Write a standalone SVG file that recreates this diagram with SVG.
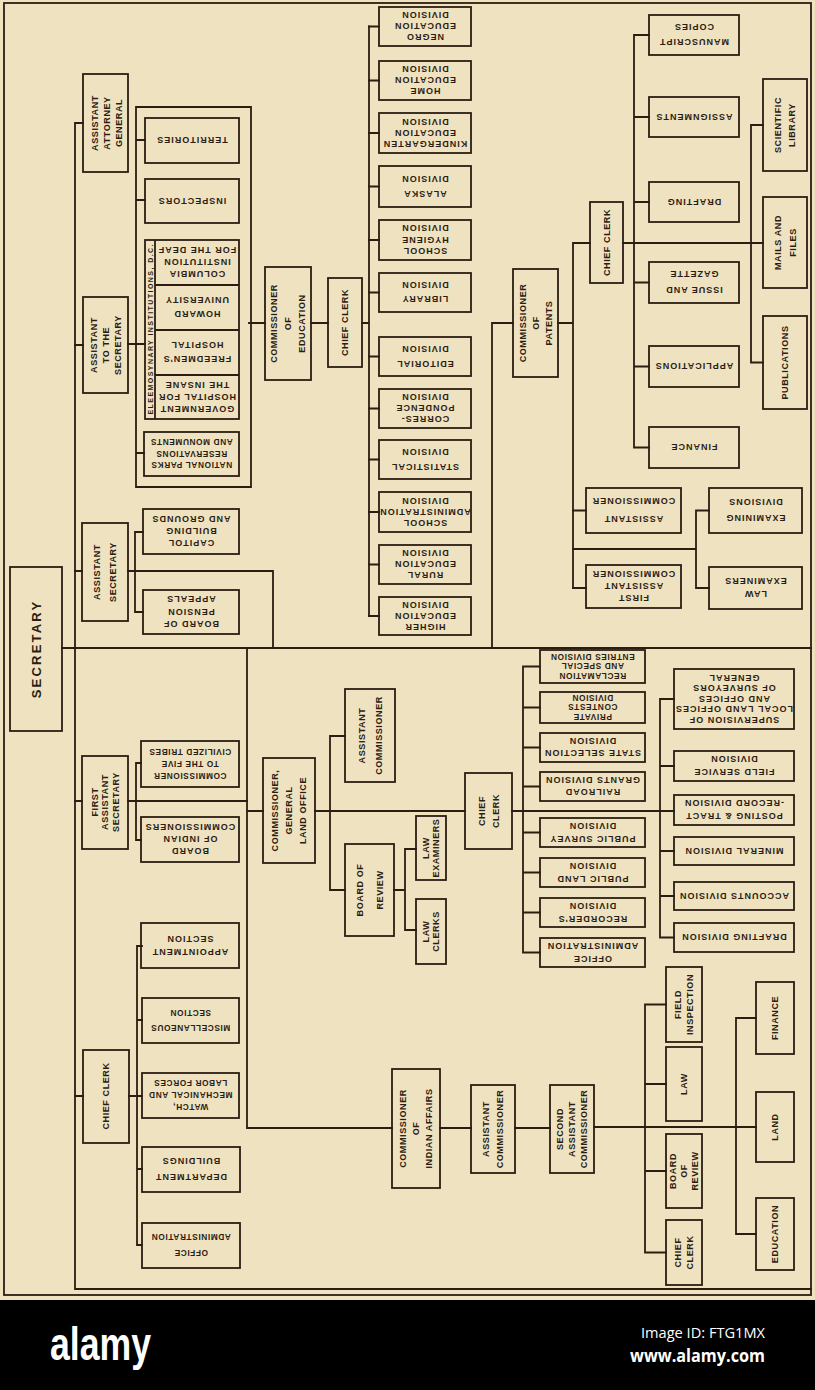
<svg xmlns="http://www.w3.org/2000/svg" width="815" height="1390" viewBox="0 0 815 1390">
<style>
.bg{fill:#efe2c1}
.bx{fill:none;stroke:#2b1d12;stroke-width:1.8}
#connectors path{fill:none;stroke:#2b1d12;stroke-width:1.8;stroke-linecap:square}
text{font-family:"Liberation Sans",Arial,sans-serif;font-weight:bold;font-size:9px;fill:#2b1d12;text-anchor:middle}
.u{letter-spacing:1px}
.r{letter-spacing:0.6px}
.sm{font-size:8.3px;letter-spacing:0.6px}
.ft{fill:#fff;font-family:"Open Sans","Liberation Sans",sans-serif;text-anchor:start}
</style>
<rect class="bg" x="0" y="0" width="815" height="1300"/>
<rect x="0" y="1300" width="815" height="90" fill="#000"/>
<rect class="bx" x="4" y="3" width="807" height="1292" stroke-width="2"/>

<g id="connectors">
<path d="M75,123 H83 M75,123 V1289 H811 M62,648 H811"/>
<path d="M75,345 H83 M128,344 H145"/>
<path d="M136,107 H251 V487 H136 Z M136,140 H145 M136,200 H145 M136,453 H144"/>
<path d="M75,571 H82 M128,571 H273 V648 M143,532 H135 V612 H143"/>
<path d="M75,801 H82 M128,801 H247 M141,763 H136 V840 H141"/>
<path d="M75,1096 H83 M129,1096 H142 M142,946 H137 V1245 H142 M137,1020 H142 M137,1169 H142"/>
<path d="M249,323 H265 M311,323 H328 M362,323 H369 M369,26.5 V616"/>
<path d="M369,26.5 H379 M369,80.5 H379 M369,133 H379 M369,186.5 H379 M369,240 H379 M369,292.5 H379 M369,356.5 H379 M369,408.5 H379 M369,459.5 H379 M369,512 H379 M369,564.5 H379 M369,616 H379"/>
<path d="M492,648 V323 H513 M558,323 H573 M573,243 V588 M573,243 H590 M623,243 H763"/>
<path d="M634,35 V447.5 M634,35 H649 M634,117 H649 M634,202 H649 M634,282.5 H649 M634,366.5 H649 M634,447.5 H649"/>
<path d="M751,125 V362.5 M751,125 H763 M751,362.5 H763"/>
<path d="M573,510.5 H586 M573,588 H586 M573,549 H696 M696,510.5 V588 M696,510.5 H709 M696,588 H709"/>
<path d="M247,648 V1128 H392 M247,811 H263"/>
<path d="M315,811 H465 M330,736 V890 M330,736 H345 M330,890 H345 M394,890 H405 M405,849 V930 M405,849 H416 M405,930 H416"/>
<path d="M512,811 H674 M523,666.5 V952.5 M523,666.5 H540 M523,707.5 H540 M523,747.5 H540 M523,786.5 H540 M523,832.5 H540 M523,872.5 H540 M523,912.5 H540 M523,952.5 H540"/>
<path d="M660,699 V937.5 M660,699 H674 M660,766 H674 M660,851 H674 M660,896 H674 M660,937.5 H674"/>
<path d="M440,1128 H471 M515,1128 H550 M594,1127 H756"/>
<path d="M645,1004.5 V1252.5 M645,1004.5 H666 M645,1084 H666 M645,1171 H666 M645,1252.5 H666"/>
<path d="M736,1018 V1234 M736,1018 H756 M736,1234 H756"/>
</g>

<g id="n_secretary"><rect class="bx" x="10" y="567" width="52" height="164"/>
<text transform="rotate(-90 36 649)" x="36" y="653.7" style="font-size:13px;letter-spacing:2.2px">SECRETARY</text></g>

<g id="n_aag"><rect class="bx" x="83" y="74" width="45" height="98"/>
<text class="r" transform="rotate(-90 107 123)"><tspan x="107" y="114.3">ASSISTANT</tspan><tspan x="107" y="126.3">ATTORNEY</tspan><tspan x="107" y="138.3">GENERAL</tspan></text></g>
<g id="n_ats"><rect class="bx" x="83" y="297" width="45" height="96"/>
<text class="r" transform="rotate(-90 106 345)"><tspan x="106" y="336.3">ASSISTANT</tspan><tspan x="106" y="348.3">TO THE</tspan><tspan x="106" y="360.3">SECRETARY</tspan></text></g>
<g id="n_as"><rect class="bx" x="82" y="523" width="46" height="98"/>
<text class="r" transform="rotate(-90 105 572)"><tspan x="105" y="567.3">ASSISTANT</tspan><tspan x="105" y="583.3">SECRETARY</tspan></text></g>
<g id="n_fas"><rect class="bx" x="82" y="756" width="46" height="93"/>
<text class="r" transform="rotate(-90 105 802)"><tspan x="105" y="794.8">FIRST</tspan><tspan x="105" y="805.3">ASSISTANT</tspan><tspan x="105" y="815.8">SECRETARY</tspan></text></g>
<g id="n_cc1"><rect class="bx" x="83" y="1050" width="46" height="93"/>
<text class="r" transform="rotate(-90 106 1096)" x="106" y="1099.3">CHIEF CLERK</text></g>

<g id="n_terr"><rect class="bx" x="145" y="118" width="94" height="45"/>
<text class="u" transform="rotate(180 192 140.5)" x="192" y="143.8">TERRITORIES</text></g>
<g id="n_insp"><rect class="bx" x="145" y="179" width="94" height="44"/>
<text class="u" transform="rotate(180 192 201)" x="192" y="204.3">INSPECTORS</text></g>
<g id="n_eleem"><rect class="bx" x="145" y="240" width="94" height="179"/>
<path class="bx" d="M155,240 V419 M155,285 H239 M155,330 H239 M155,375 H239"/>
<text transform="rotate(-90 150 329.5)" x="150" y="332" style="font-size:7px" textLength="170" lengthAdjust="spacing">ELEEMOSYNARY INSTITUTIONS, D.C.</text>
<text class="u" transform="rotate(180 197 262.5)"><tspan x="197" y="253.8">COLUMBIA</tspan><tspan x="197" y="265.8">INSTITUTION</tspan><tspan x="197" y="277.8">FOR THE DEAF</tspan></text>
<text class="u" transform="rotate(180 197 307.5)"><tspan x="197" y="303.8">HOWARD</tspan><tspan x="197" y="317.8">UNIVERSITY</tspan></text>
<text class="u" transform="rotate(180 197 352.5)"><tspan x="197" y="348.8">FREEDMEN'S</tspan><tspan x="197" y="362.8">HOSPITAL</tspan></text>
<text class="u" transform="rotate(180 197 397)"><tspan x="197" y="388.3">GOVERNMENT</tspan><tspan x="197" y="400.3">HOSPITAL FOR</tspan><tspan x="197" y="412.3">THE INSANE</tspan></text></g>
<g id="n_np"><rect class="bx" x="144" y="432" width="95" height="44"/>
<text class="sm" transform="rotate(180 191.5 454)"><tspan x="191.5" y="445.8">NATIONAL PARKS</tspan><tspan x="191.5" y="457.3">RESERVATIONS</tspan><tspan x="191.5" y="468.8">AND MONUMENTS</tspan></text></g>
<g id="n_cap"><rect class="bx" x="143" y="509" width="96" height="45"/>
<text class="u" transform="rotate(180 191 531.5)"><tspan x="191" y="522.8">CAPITOL</tspan><tspan x="191" y="534.8">BUILDING</tspan><tspan x="191" y="546.8">AND GROUNDS</tspan></text></g>
<g id="n_bpa"><rect class="bx" x="143" y="590" width="96" height="44"/>
<text class="u" transform="rotate(180 191 612)"><tspan x="191" y="602.8">BOARD OF</tspan><tspan x="191" y="615.3">PENSION</tspan><tspan x="191" y="627.8">APPEALS</tspan></text></g>
<g id="n_c5"><rect class="bx" x="141" y="741" width="98" height="46"/>
<text class="sm" transform="rotate(180 190 764)"><tspan x="190" y="755.3">COMMISSIONER</tspan><tspan x="190" y="767.3">TO THE FIVE</tspan><tspan x="190" y="779.3">CIVILIZED TRIBES</tspan></text></g>
<g id="n_bic"><rect class="bx" x="141" y="817" width="98" height="45"/>
<text class="u" transform="rotate(180 190 839.5)"><tspan x="190" y="830.8">BOARD</tspan><tspan x="190" y="842.8">OF INDIAN</tspan><tspan x="190" y="854.8">COMMISSIONERS</tspan></text></g>
<g id="n_app"><rect class="bx" x="141" y="923" width="98" height="45"/>
<text class="u" transform="rotate(180 190 945.5)"><tspan x="190" y="942.3">APPOINTMENT</tspan><tspan x="190" y="955.3">SECTION</tspan></text></g>
<g id="n_misc"><rect class="bx" x="142" y="998" width="97" height="45"/>
<text class="sm" transform="rotate(180 190.5 1020.5)"><tspan x="190.5" y="1016.3">MISCELLANEOUS</tspan><tspan x="190.5" y="1031.3">SECTION</tspan></text></g>
<g id="n_watch"><rect class="bx" x="142" y="1073" width="97" height="45"/>
<text class="sm" transform="rotate(180 190.5 1095.5)"><tspan x="190.5" y="1086.8">WATCH,</tspan><tspan x="190.5" y="1098.8">MECHANICAL AND</tspan><tspan x="190.5" y="1110.8">LABOR FORCES</tspan></text></g>
<g id="n_dept"><rect class="bx" x="142" y="1147" width="98" height="45"/>
<text class="u" transform="rotate(180 191 1169.5)"><tspan x="191" y="1164.8">DEPARTMENT</tspan><tspan x="191" y="1180.8">BUILDINGS</tspan></text></g>
<g id="n_oa1"><rect class="bx" x="142" y="1223" width="98" height="45"/>
<text class="sm" transform="rotate(180 191 1245.5)"><tspan x="191" y="1240.8">OFFICE</tspan><tspan x="191" y="1256.8">ADMINISTRATION</tspan></text></g>

<g id="n_ce"><rect class="bx" x="265" y="267" width="46" height="113"/>
<text class="r" transform="rotate(-90 288 323.5)"><tspan x="288" y="312.8">COMMISSIONER</tspan><tspan x="288" y="326.8">OF</tspan><tspan x="288" y="340.8">EDUCATION</tspan></text></g>
<g id="n_cce"><rect class="bx" x="328" y="278" width="34" height="89"/>
<text class="r" transform="rotate(-90 345 322.5)" x="345" y="325.8">CHIEF CLERK</text></g>

<g id="n_negro"><rect class="bx" x="379" y="7" width="92" height="39"/>
<text class="u" transform="rotate(180 425 26.5)"><tspan x="425" y="18.8">NEGRO</tspan><tspan x="425" y="29.8">EDUCATION</tspan><tspan x="425" y="40.8">DIVISION</tspan></text></g>
<g id="n_home"><rect class="bx" x="379" y="61" width="92" height="39"/>
<text class="u" transform="rotate(180 425 80.5)"><tspan x="425" y="72.8">HOME</tspan><tspan x="425" y="83.8">EDUCATION</tspan><tspan x="425" y="94.8">DIVISION</tspan></text></g>
<g id="n_kinder"><rect class="bx" x="379" y="113" width="92" height="40"/>
<text class="u" transform="rotate(180 425 133)"><tspan x="425" y="125.3">KINDERGARTEN</tspan><tspan x="425" y="136.3">EDUCATION</tspan><tspan x="425" y="147.3">DIVISION</tspan></text></g>
<g id="n_alaska"><rect class="bx" x="379" y="166" width="92" height="41"/>
<text class="u" transform="rotate(180 425 186.5)"><tspan x="425" y="182.3">ALASKA</tspan><tspan x="425" y="197.3">DIVISION</tspan></text></g>
<g id="n_hygiene"><rect class="bx" x="379" y="220" width="92" height="40"/>
<text class="u" transform="rotate(180 425 240)"><tspan x="425" y="231.8">SCHOOL</tspan><tspan x="425" y="243.3">HYGIENE</tspan><tspan x="425" y="254.8">DIVISION</tspan></text></g>
<g id="n_library"><rect class="bx" x="379" y="273" width="92" height="39"/>
<text class="u" transform="rotate(180 425 292.5)"><tspan x="425" y="288.8">LIBRARY</tspan><tspan x="425" y="302.8">DIVISION</tspan></text></g>
<g id="n_editorial"><rect class="bx" x="379" y="337" width="92" height="39"/>
<text class="u" transform="rotate(180 425 356.5)"><tspan x="425" y="352.3">EDITORIAL</tspan><tspan x="425" y="367.3">DIVISION</tspan></text></g>
<g id="n_corres"><rect class="bx" x="379" y="389" width="92" height="39"/>
<text class="u" transform="rotate(180 425 408.5)"><tspan x="425" y="400.8">CORRES-</tspan><tspan x="425" y="411.8">PONDENCE</tspan><tspan x="425" y="422.8">DIVISION</tspan></text></g>
<g id="n_statistical"><rect class="bx" x="379" y="440" width="92" height="39"/>
<text class="u" transform="rotate(180 425 459.5)"><tspan x="425" y="455.3">STATISTICAL</tspan><tspan x="425" y="470.3">DIVISION</tspan></text></g>
<g id="n_schooladmin"><rect class="bx" x="379" y="492" width="92" height="40"/>
<text class="u" transform="rotate(180 425 512)"><tspan x="425" y="504.3">SCHOOL</tspan><tspan x="425" y="515.3">ADMINISTRATION</tspan><tspan x="425" y="526.3">DIVISION</tspan></text></g>
<g id="n_rural"><rect class="bx" x="379" y="545" width="92" height="39"/>
<text class="u" transform="rotate(180 425 564.5)"><tspan x="425" y="556.8">RURAL</tspan><tspan x="425" y="567.8">EDUCATION</tspan><tspan x="425" y="578.8">DIVISION</tspan></text></g>
<g id="n_higher"><rect class="bx" x="379" y="597" width="92" height="38"/>
<text class="u" transform="rotate(180 425 616)"><tspan x="425" y="608.3">HIGHER</tspan><tspan x="425" y="619.3">EDUCATION</tspan><tspan x="425" y="630.3">DIVISION</tspan></text></g>

<g id="n_cp"><rect class="bx" x="513" y="269" width="45" height="108"/>
<text class="r" transform="rotate(-90 535.5 323)"><tspan x="535.5" y="313.3">COMMISSIONER</tspan><tspan x="535.5" y="326.3">OF</tspan><tspan x="535.5" y="339.3">PATENTS</tspan></text></g>
<g id="n_ccp"><rect class="bx" x="590" y="202" width="33" height="81"/>
<text class="r" transform="rotate(-90 606.5 242.5)" x="606.5" y="245.8">CHIEF CLERK</text></g>
<g id="n_manuscript"><rect class="bx" x="649" y="15" width="90" height="40"/>
<text class="u" transform="rotate(180 694 35)"><tspan x="694" y="30.8">MANUSCRIPT</tspan><tspan x="694" y="45.8">COPIES</tspan></text></g>
<g id="n_assignments"><rect class="bx" x="649" y="97" width="90" height="40"/>
<text class="u" transform="rotate(180 694 117)" x="694" y="120.3">ASSIGNMENTS</text></g>
<g id="n_drafting"><rect class="bx" x="649" y="182" width="90" height="40"/>
<text class="u" transform="rotate(180 694 202)" x="694" y="205.3">DRAFTING</text></g>
<g id="n_issue"><rect class="bx" x="649" y="262" width="90" height="41"/>
<text class="u" transform="rotate(180 694 282.5)"><tspan x="694" y="277.8">ISSUE AND</tspan><tspan x="694" y="293.8">GAZETTE</tspan></text></g>
<g id="n_applications"><rect class="bx" x="649" y="346" width="90" height="41"/>
<text class="u" transform="rotate(180 694 366.5)" x="694" y="369.8">APPLICATIONS</text></g>
<g id="n_finance_p"><rect class="bx" x="649" y="427" width="90" height="41"/>
<text class="u" transform="rotate(180 694 447.5)" x="694" y="450.8">FINANCE</text></g>
<g id="n_scilib"><rect class="bx" x="763" y="79" width="44" height="92"/>
<text class="r" transform="rotate(-90 785 125)"><tspan x="785" y="121.3">SCIENTIFIC</tspan><tspan x="785" y="135.3">LIBRARY</tspan></text></g>
<g id="n_mails"><rect class="bx" x="763" y="197" width="44" height="91"/>
<text class="r" transform="rotate(-90 785 242.5)"><tspan x="785" y="238.3">MAILS AND</tspan><tspan x="785" y="253.3">FILES</tspan></text></g>
<g id="n_publications"><rect class="bx" x="763" y="316" width="44" height="93"/>
<text class="r" transform="rotate(-90 785 362.5)" x="785" y="365.8">PUBLICATIONS</text></g>
<g id="n_acp"><rect class="bx" x="586" y="488" width="95" height="45"/>
<text class="u" transform="rotate(180 633.5 510.5)"><tspan x="633.5" y="504.8">ASSISTANT</tspan><tspan x="633.5" y="522.8">COMMISSIONER</tspan></text></g>
<g id="n_facp"><rect class="bx" x="586" y="565" width="95" height="43"/>
<text class="u" transform="rotate(180 633.5 586.5)"><tspan x="633.5" y="577.8">FIRST</tspan><tspan x="633.5" y="589.8">ASSISTANT</tspan><tspan x="633.5" y="601.8">COMMISSIONER</tspan></text></g>
<g id="n_exd"><rect class="bx" x="709" y="488" width="93" height="45"/>
<text class="u" transform="rotate(180 755.5 510.5)"><tspan x="755.5" y="505.8">EXAMINING</tspan><tspan x="755.5" y="521.8">DIVISIONS</tspan></text></g>
<g id="n_lexp"><rect class="bx" x="709" y="567" width="93" height="42"/>
<text class="u" transform="rotate(180 755.5 588)"><tspan x="755.5" y="584.8">LAW</tspan><tspan x="755.5" y="597.8">EXAMINERS</tspan></text></g>

<g id="n_glo"><rect class="bx" x="263" y="758" width="52" height="105"/>
<text class="r" transform="rotate(-90 289 810.5)"><tspan x="289" y="799.8">COMMISSIONER,</tspan><tspan x="289" y="813.8">GENERAL</tspan><tspan x="289" y="827.8">LAND OFFICE</tspan></text></g>
<g id="n_acg"><rect class="bx" x="345" y="689" width="50" height="93"/>
<text class="r" transform="rotate(-90 370 735.5)"><tspan x="370" y="730.3">ASSISTANT</tspan><tspan x="370" y="747.3">COMMISSIONER</tspan></text></g>
<g id="n_br"><rect class="bx" x="345" y="844" width="49" height="92"/>
<text class="r" transform="rotate(-90 369.5 890)"><tspan x="369.5" y="883.3">BOARD OF</tspan><tspan x="369.5" y="903.3">REVIEW</tspan></text></g>
<g id="n_lex"><rect class="bx" x="416" y="816" width="30" height="64"/>
<text class="r" transform="rotate(-90 431 848)"><tspan x="431" y="846.3">LAW</tspan><tspan x="431" y="856.3">EXAMINERS</tspan></text></g>
<g id="n_lcl"><rect class="bx" x="416" y="899" width="30" height="65"/>
<text class="r" transform="rotate(-90 431 931.5)"><tspan x="431" y="929.8">LAW</tspan><tspan x="431" y="939.8">CLERKS</tspan></text></g>
<g id="n_ccg"><rect class="bx" x="465" y="773" width="47" height="76"/>
<text class="r" transform="rotate(-90 488.5 811)"><tspan x="488.5" y="807.3">CHIEF</tspan><tspan x="488.5" y="821.3">CLERK</tspan></text></g>

<g id="n_reclamation"><rect class="bx" x="540" y="650" width="105" height="33"/>
<text class="sm" transform="rotate(180 592.5 666.5)"><tspan x="592.5" y="660.3">RECLAMATION</tspan><tspan x="592.5" y="669.8">AND SPECIAL</tspan><tspan x="592.5" y="679.3">ENTRIES DIVISION</tspan></text></g>
<g id="n_private"><rect class="bx" x="540" y="692" width="105" height="31"/>
<text class="sm" transform="rotate(180 592.5 707.5)"><tspan x="592.5" y="701.3">PRIVATE</tspan><tspan x="592.5" y="710.8">CONTESTS</tspan><tspan x="592.5" y="720.3">DIVISION</tspan></text></g>
<g id="n_state"><rect class="bx" x="540" y="733" width="105" height="29"/>
<text class="u" transform="rotate(180 592.5 747.5)"><tspan x="592.5" y="744.8">STATE SELECTION</tspan><tspan x="592.5" y="756.8">DIVISION</tspan></text></g>
<g id="n_railroad"><rect class="bx" x="540" y="772" width="105" height="29"/>
<text class="u" transform="rotate(180 592.5 786.5)"><tspan x="592.5" y="783.8">RAILROAD</tspan><tspan x="592.5" y="795.8">GRANTS DIVISION</tspan></text></g>
<g id="n_psurvey"><rect class="bx" x="540" y="818" width="105" height="29"/>
<text class="u" transform="rotate(180 592.5 832.5)"><tspan x="592.5" y="829.3">PUBLIC SURVEY</tspan><tspan x="592.5" y="842.3">DIVISION</tspan></text></g>
<g id="n_pland"><rect class="bx" x="540" y="858" width="105" height="29"/>
<text class="u" transform="rotate(180 592.5 872.5)"><tspan x="592.5" y="869.3">PUBLIC LAND</tspan><tspan x="592.5" y="882.3">DIVISION</tspan></text></g>
<g id="n_recorder"><rect class="bx" x="540" y="898" width="105" height="29"/>
<text class="u" transform="rotate(180 592.5 912.5)"><tspan x="592.5" y="909.3">RECORDER'S</tspan><tspan x="592.5" y="922.3">DIVISION</tspan></text></g>
<g id="n_oa2"><rect class="bx" x="540" y="938" width="105" height="29"/>
<text class="u" transform="rotate(180 592.5 952.5)"><tspan x="592.5" y="949.3">OFFICE</tspan><tspan x="592.5" y="962.3">ADMINISTRATION</tspan></text></g>

<g id="n_supervision"><rect class="bx" x="674" y="669" width="120" height="60"/>
<text class="u" transform="rotate(180 734 699)"><tspan x="734" y="681.3">SUPERVISION OF</tspan><tspan x="734" y="691.8">LOCAL LAND OFFICES</tspan><tspan x="734" y="702.3">AND OFFICES</tspan><tspan x="734" y="712.8">OF SURVEYORS</tspan><tspan x="734" y="723.3">GENERAL</tspan></text></g>
<g id="n_field"><rect class="bx" x="674" y="751" width="120" height="30"/>
<text class="u" transform="rotate(180 734 766)"><tspan x="734" y="762.8">FIELD SERVICE</tspan><tspan x="734" y="775.8">DIVISION</tspan></text></g>
<g id="n_posting"><rect class="bx" x="674" y="795" width="120" height="30"/>
<text class="u" transform="rotate(180 734 810)"><tspan x="734" y="806.8">POSTING &amp; TRACT</tspan><tspan x="734" y="819.8">-RECORD DIVISION</tspan></text></g>
<g id="n_mineral"><rect class="bx" x="674" y="837" width="120" height="28"/>
<text class="u" transform="rotate(180 734 851)" x="734" y="854.3">MINERAL DIVISION</text></g>
<g id="n_accounts"><rect class="bx" x="674" y="882" width="120" height="28"/>
<text class="u" transform="rotate(180 734 896)" x="734" y="899.3">ACCOUNTS DIVISION</text></g>
<g id="n_draftdiv"><rect class="bx" x="674" y="923" width="120" height="29"/>
<text class="u" transform="rotate(180 734 937.5)" x="734" y="940.8">DRAFTING DIVISION</text></g>

<g id="n_cia"><rect class="bx" x="392" y="1069" width="48" height="119"/>
<text class="r" transform="rotate(-90 416 1128.5)"><tspan x="416" y="1118.8">COMMISSIONER</tspan><tspan x="416" y="1131.8">OF</tspan><tspan x="416" y="1144.8">INDIAN AFFAIRS</tspan></text></g>
<g id="n_aci"><rect class="bx" x="471" y="1085" width="44" height="88"/>
<text class="r" transform="rotate(-90 493 1129)"><tspan x="493" y="1125.3">ASSISTANT</tspan><tspan x="493" y="1139.3">COMMISSIONER</tspan></text></g>
<g id="n_saci"><rect class="bx" x="550" y="1085" width="44" height="88"/>
<text class="r" transform="rotate(-90 572 1129)"><tspan x="572" y="1120.3">SECOND</tspan><tspan x="572" y="1132.3">ASSISTANT</tspan><tspan x="572" y="1144.3">COMMISSIONER</tspan></text></g>
<g id="n_finsp"><rect class="bx" x="666" y="967" width="36" height="75"/>
<text class="r" transform="rotate(-90 684 1004.5)"><tspan x="684" y="1001.8">FIELD</tspan><tspan x="684" y="1013.8">INSPECTION</tspan></text></g>
<g id="n_law"><rect class="bx" x="666" y="1047" width="36" height="74"/>
<text class="r" transform="rotate(-90 684 1084)" x="684" y="1087.3">LAW</text></g>
<g id="n_bri"><rect class="bx" x="666" y="1134" width="36" height="74"/>
<text class="r" transform="rotate(-90 684 1171)"><tspan x="684" y="1163.3">BOARD</tspan><tspan x="684" y="1174.3">OF</tspan><tspan x="684" y="1185.3">REVIEW</tspan></text></g>
<g id="n_cci"><rect class="bx" x="666" y="1220" width="36" height="65"/>
<text class="r" transform="rotate(-90 684 1252.5)"><tspan x="684" y="1249.8">CHIEF</tspan><tspan x="684" y="1261.8">CLERK</tspan></text></g>
<g id="n_finance_i"><rect class="bx" x="756" y="982" width="38" height="72"/>
<text class="r" transform="rotate(-90 775 1018)" x="775" y="1021.3">FINANCE</text></g>
<g id="n_land"><rect class="bx" x="756" y="1092" width="38" height="70"/>
<text class="r" transform="rotate(-90 775 1127)" x="775" y="1130.3">LAND</text></g>
<g id="n_education"><rect class="bx" x="756" y="1198" width="38" height="72"/>
<text class="r" transform="rotate(-90 775 1234)" x="775" y="1237.3">EDUCATION</text></g>

<g id="footer">
<text class="ft" x="50" y="1360" style="font-family:'Liberation Sans Narrow','Liberation Sans',sans-serif;font-size:46px;font-weight:bold" textLength="101" lengthAdjust="spacingAndGlyphs">alamy</text>
<text class="ft" x="641" y="1338" style="font-size:14px;font-weight:normal" textLength="124" lengthAdjust="spacingAndGlyphs">Image ID: FTG1MX</text>
<text class="ft" x="630" y="1362" style="font-size:17px;font-weight:bold" textLength="135" lengthAdjust="spacingAndGlyphs">www.alamy.com</text>
</g>
</svg>
